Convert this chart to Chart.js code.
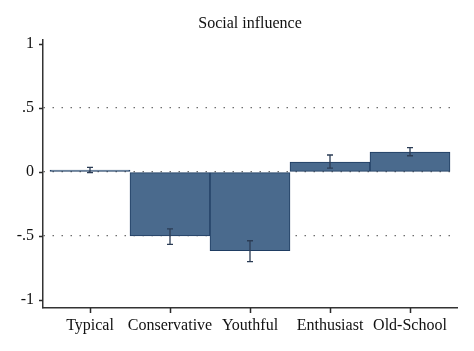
<!DOCTYPE html>
<html>
<head>
<meta charset="utf-8">
<script src="https://cdn.jsdelivr.net/npm/chart.js@4"></script>
<style>
  body { margin: 0; background: #fff; }
  #wrap { width: 474px; height: 351px; }
</style>
</head>
<body>
<div id="wrap"><canvas id="socialInfluence"></canvas></div>
<script>
// social influence by segment, means with error bars

const categories = ['Typical', 'Conservative', 'Youthful', 'Enthusiast', 'Old-School']
const means = [0.015, -0.50, -0.615, 0.078, 0.155]
const errLow = [-0.005, -0.565, -0.70, 0.03, 0.127]
const errHigh = [0.037, -0.445, -0.537, 0.133, 0.19]
const yTicks = [1, 0.5, 0, -0.5, -1]
const yTickLabels = ['1', '.5', '0', '-.5', '-1']

const serif = '"Liberation Serif", "DejaVu Serif", serif'

// error bars plus the little axis tick marks, placed with the chart's scales
const errorBars = {
  id: 'errorBars',
  afterDatasetsDraw(chart) {
    const ctx = chart.ctx
    const xs = chart.scales.x
    const ys = chart.scales.y
    ctx.save()
    ctx.strokeStyle = '#2b3c55'
    ctx.lineWidth = 1.3
    for (let i = 0; i < categories.length; i++) {
      const x = xs.getPixelForValue(i)
      const top = ys.getPixelForValue(errHigh[i])
      const bot = ys.getPixelForValue(errLow[i])
      ctx.beginPath()
      ctx.moveTo(x, top); ctx.lineTo(x, bot)
      ctx.moveTo(x - 3, top); ctx.lineTo(x + 3, top)
      ctx.moveTo(x - 3, bot); ctx.lineTo(x + 3, bot)
      ctx.stroke()
    }
    // tick marks
    ctx.strokeStyle = '#2a2a2a'
    ctx.lineWidth = 1.5
    ctx.beginPath()
    for (let i = 0; i < categories.length; i++) {
      const x = Math.round(xs.getPixelForValue(i)) + 0.5
      ctx.moveTo(x, xs.top); ctx.lineTo(x, xs.top + 5)
    }
    for (const v of yTicks) {
      const y = Math.round(ys.getPixelForValue(v)) + 0.5
      ctx.moveTo(ys.right - 4, y); ctx.lineTo(ys.right, y)
    }
    ctx.stroke()
    ctx.restore()
  }
}

const ctx = document.getElementById('socialInfluence').getContext('2d')

const chart = new Chart(ctx, {
  type: 'bar',
  data: {
    datasets: [{
      label: 'Social influence',
      data: means.map((v, i) => ({ x: i, y: v })),
      backgroundColor: '#4a6a8d',
      borderColor: '#1f3d62',
      borderWidth: 1,
      borderSkipped: false,
      barPercentage: 1,
      categoryPercentage: 1
    }]
  },
  options: {
    responsive: true,
    maintainAspectRatio: false,
    animation: false,
    layout: { padding: { left: 0, right: 17, top: 0, bottom: 0 } },
    plugins: {
      legend: { display: false },
      tooltip: { enabled: false },
      title: {
        display: true,
        text: 'Social influence',
        fullSize: false,
        color: '#111',
        font: { family: serif, size: 16, weight: 'normal' },
        padding: { top: 14, bottom: 7 }
      }
    },
    scales: {
      x: {
        type: 'linear',
        offset: false,
        min: -0.5875,
        max: 4.5875,
        afterFit(scale) { scale.height = 43 },
        afterBuildTicks(scale) {
          scale.ticks = categories.map((c, i) => ({ value: i }))
        },
        ticks: {
          callback: (v) => categories[v] ?? '',
          color: '#111',
          font: { family: serif, size: 16 },
          padding: 0,
          maxRotation: 0,
          autoSkip: false
        },
        grid: { display: false },
        border: { display: true, color: '#333', width: 1.5 }
      },
      y: {
        min: -1.0625,
        max: 1.03,
        afterFit(scale) { scale.width = 43 },
        afterBuildTicks(scale) {
          scale.ticks = yTicks.map(v => ({ value: v }))
        },
        ticks: {
          callback: (v) => yTickLabels[yTicks.indexOf(v)] ?? '',
          color: '#111',
          font: { family: serif, size: 16 },
          padding: 5
        },
        grid: {
          color: (c) => (c.tick && Math.abs(c.tick.value) === 1) ? 'rgba(0,0,0,0)' : '#6e6e6e',
          lineWidth: 1.2,
          drawTicks: true,
          tickLength: 4,
          tickColor: 'rgba(0,0,0,0)'
        },
        border: { display: true, color: '#333', width: 1.5, dash: [1.5, 7.5] }
      }
    }
  },
  plugins: [errorBars]
})
</script>
</body>
</html>
